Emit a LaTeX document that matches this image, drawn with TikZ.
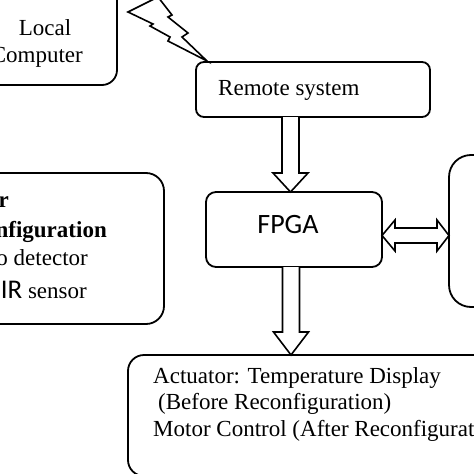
\documentclass[tikz,border=0pt]{standalone}
\usepackage{fontspec}
\setmainfont{Liberation Serif}
\newfontfamily\carlitofont{Carlito}
\usetikzlibrary{calc}
\tikzset{
 box/.style={draw, line width=1.8pt, rounded corners=#1, inner sep=0pt, outer sep=0pt},
 box/.default=10pt,
 txt/.style={inner sep=0pt, font=\fontsize{23}{27}\selectfont},
 blk/.style={draw, line width=1.6pt, fill=white, line join=miter},
}
\newcommand{\dnarrow}[3]{%
 \draw[blk] ($(#1)+(-8.5,0)$) -- ($(#2)+(-8.5,-#3)$) -- ($(#2)+(-17.5,-#3)$) -- (#2)
   -- ($(#2)+(17.5,-#3)$) -- ($(#2)+(8.5,-#3)$) -- ($(#1)+(8.5,0)$);}
\begin{document}
\begin{tikzpicture}[x=1pt,y=-1pt]
\useasboundingbox (0,0) rectangle (474,474);
\clip (0,0) rectangle (474,474);
% boxes
\node[box=15pt, minimum width=147pt, minimum height=125pt] (local) at (43.5,22.5) {};
\node[box=8pt, minimum width=234pt, minimum height=55pt] (remote) at (313,89.5) {};
\node[box=10pt, minimum width=176pt, minimum height=75pt] (fpga) at (294,229.5) {};
\node[box=22pt, minimum width=111pt, minimum height=152pt] (right) at (504.5,231) {};
\node[box=18pt, minimum width=224pt, minimum height=151pt] (sensor) at (52,248.5) {};
\node[box=16pt, minimum width=412pt, minimum height=121pt] (act) at (334,415.5) {};
% texts
\node[txt, anchor=base] (tlocal) at (45,35) {Local};
\node[txt, anchor=base east] (tcomp) at (83,62) {Computer};
\node[txt, anchor=base west] (trem) at (218,95) {Remote system};
\node[inner sep=0pt, anchor=base, font=\carlitofont\fontsize{28}{32}\selectfont] (tfpga) at (288,233) {FPGA};
\node[txt, anchor=base east, font=\fontsize{23}{27}\selectfont\bfseries] (ts1) at (9,207) {Sensor};
\node[txt, anchor=base east, font=\fontsize{23}{27}\selectfont\bfseries] (ts2) at (107,237) {Reconfiguration};
\node[txt, anchor=base east] (ts3) at (88,265) {Photo detector};
\node[txt, anchor=base east] (ts4) at (87,298) {{\carlitofont\fontsize{27}{27}\selectfont PIR} sensor};
\node[txt, anchor=base west] (ta1) at (153,383) {Actuator: Temperature Display};
\node[txt, anchor=base west] (ta2) at (158,409) {(Before Reconfiguration)};
\node[txt, anchor=base west] (ta3) at (153,436) {Motor Control (After Reconfiguration)};
% lightning bolt
\coordinate (bt) at ($(remote.north west)+(11,-1)$);
\draw[blk] (bt) -- ($(bt)+(-25,-24)$) -- ($(bt)+(-19,-28)$) -- ($(bt)+(-39,-44)$)
  -- ($(bt)+(-35,-46)$) -- ($(bt)+(-49,-64)$) -- ($(bt)+(-79,-49)$)
  -- ($(bt)+(-54,-37)$) -- ($(bt)+(-57,-35)$) -- ($(bt)+(-37,-24)$) -- ($(bt)+(-39,-20)$) -- cycle;
% arrows
\coordinate (a1t) at ($(fpga.north)+(-3.5,0)$);
\coordinate (a1s) at (a1t |- remote.south);
\dnarrow{a1s}{a1t}{19}
\coordinate (a2s) at ($(fpga.south)+(-3,0)$);
\coordinate (a2t) at (a2s |- act.north);
\dnarrow{a2s}{a2t}{23}
\coordinate (d1) at ($(fpga.east)+(0,6)$);
\coordinate (d2) at (d1 -| right.west);
\draw[blk] (d1) -- ($(d1)+(13,-15.5)$) -- ($(d1)+(13,-7.5)$) -- ($(d2)+(-12,-7.5)$)
  -- ($(d2)+(-12,-15.5)$) -- (d2) -- ($(d2)+(-12,15.5)$) -- ($(d2)+(-12,7.5)$)
  -- ($(d1)+(13,7.5)$) -- ($(d1)+(13,15.5)$) -- cycle;
\end{tikzpicture}
\end{document}
